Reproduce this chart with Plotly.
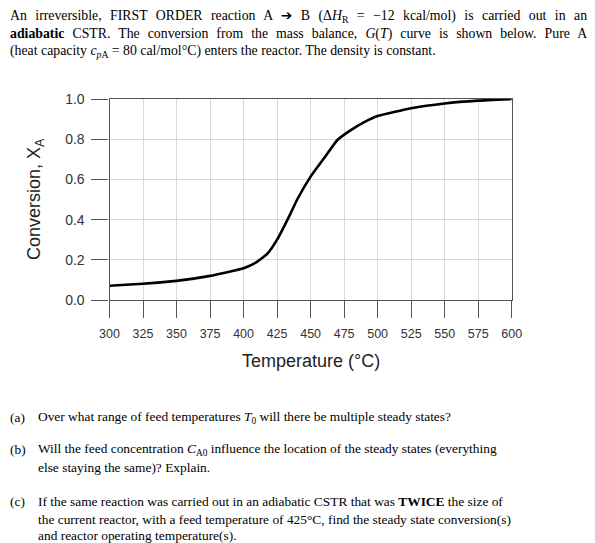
import plotly.graph_objects as go

temperature_c = [300, 325, 350, 375, 400, 410, 418, 425, 435, 440, 450, 460, 470, 480, 490, 500, 525, 550, 575, 600]
conversion = [0.071, 0.081, 0.095, 0.12, 0.158, 0.19, 0.232, 0.30, 0.43, 0.50, 0.614, 0.705, 0.796, 0.845, 0.885, 0.915, 0.954, 0.978, 0.992, 1.0]
x_ticks = [300, 325, 350, 375, 400, 425, 450, 475, 500, 525, 550, 575, 600]
y_ticks = [0.0, 0.2, 0.4, 0.6, 0.8, 1.0]

# the page body adds an 8px offset; the figure fills the rest of the window
OFF = 8
W, H = 595 - OFF, 543 - OFF
def px(x):
    return (x - OFF) / W
def py(y):
    return 1 - (y - OFF) / H

fig = go.Figure()
fig.add_trace(go.Scatter(
    x=temperature_c, y=conversion, mode="lines",
    line=dict(color="black", width=2.6, shape="spline", smoothing=0.4),
    hoverinfo="skip", showlegend=False))

axis_common = dict(showgrid=True, gridcolor="#d9d9d9", gridwidth=1,
                   showline=True, linecolor="#555555", linewidth=1.2, mirror=True,
                   ticks="outside", ticklen=17, tickcolor="#555555", tickwidth=1.2,
                   zeroline=False, automargin=False)

fig.update_layout(
    width=W, height=H, autosize=False,
    margin=dict(l=0, r=0, t=0, b=0, pad=0, autoexpand=False),
    paper_bgcolor="white", plot_bgcolor="white",
    xaxis=dict(range=[300, 600], tickvals=x_ticks, ticktext=[str(v) for v in x_ticks],
               domain=[px(109.5), px(511.7)],
               tickfont=dict(family="Arial, Liberation Sans", size=12.5, color="#333333"),
               ticklabelstandoff=5, **axis_common),
    yaxis=dict(range=[0, 1], tickvals=y_ticks, ticktext=[f"{v:.1f}" for v in y_ticks],
               domain=[py(300), py(99)],
               tickfont=dict(family="Arial, Liberation Sans", size=14, color="#333333"),
               ticklabelstandoff=4, **axis_common),
)

serif_top = dict(family="Liberation Serif, Times New Roman, serif", size=13.8, color="black")
serif_bot = dict(family="Liberation Serif, Times New Roman, serif", size=13.4, color="black")
sans = "Arial, Liberation Sans, sans-serif"

anns = []
def text_line(x, y, s, font, ws=None):
    if ws is not None:
        s = f"<span style='word-spacing:{ws}px'>{s}</span>"
    anns.append(dict(x=px(max(x, OFF)), y=py(y), xref="paper", yref="paper", text=s,
                     showarrow=False, xanchor="left", yanchor="middle", font=font))

text_line(3, 16, "An irreversible, FIRST ORDER reaction A <span style='font-family:DejaVu Sans'>➔</span> B (Δ<i>H</i><sub>R</sub> = −12 kcal/mol) is carried out in an", serif_top, ws=5.0)
text_line(3, 33.5, "<b>adiabatic</b> CSTR. The conversion from the mass balance, <i>G</i>(<i>T</i>) curve is shown below. Pure A", serif_top, ws=4.6)
text_line(3, 51.5, "(heat capacity <i>c</i><sub><i>p</i>A</sub> = 80 cal/mol°C) enters the reactor. The density is constant.", serif_top)

text_line(3, 417, "(a)", serif_bot)
text_line(36, 417, "Over what range of feed temperatures <i>T</i><sub>0</sub> will there be multiple steady states?", serif_bot)
text_line(3, 449.5, "(b)", serif_bot)
text_line(36, 449.5, "Will the feed concentration <i>C</i><sub>A0</sub> influence the location of the steady states (everything", serif_bot)
text_line(36, 467.5, "else staying the same)? Explain.", serif_bot)
text_line(3, 501, "(c)", serif_bot)
text_line(36, 501, "If the same reaction was carried out in an adiabatic CSTR that was <b>TWICE</b> the size of", serif_bot)
text_line(36, 519, "the current reactor, with a feed temperature of 425°C, find the steady state conversion(s)", serif_bot)
text_line(36, 535.5, "and reactor operating temperature(s).", serif_bot)

# axis titles
anns.append(dict(x=px(35), y=py(199), xref="paper", yref="paper",
                 text="Conversion, X<sub>A</sub>", textangle=-90, showarrow=False,
                 xanchor="center", yanchor="middle",
                 font=dict(family=sans, size=18, color="#222222")))
anns.append(dict(x=px(311), y=py(361), xref="paper", yref="paper",
                 text="Temperature (°C)", showarrow=False,
                 xanchor="center", yanchor="middle",
                 font=dict(family=sans, size=18, color="#222222")))

fig.update_layout(annotations=anns)
fig.write_html("out.html")
